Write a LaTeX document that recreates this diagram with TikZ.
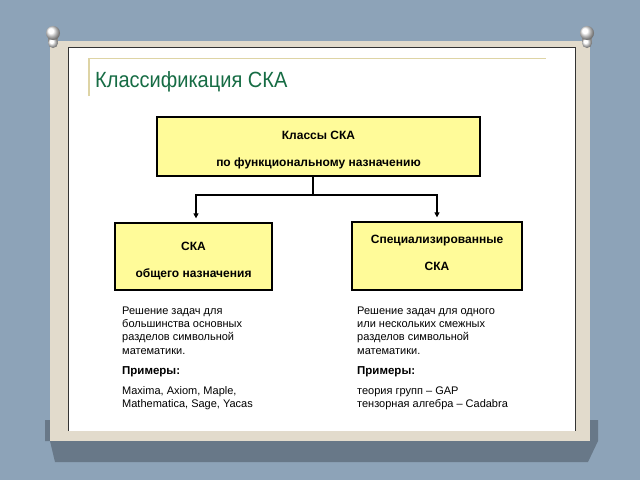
\documentclass[tikz,border=0pt]{standalone}
\usepackage{fontspec}
\setmainfont{Liberation Sans}
\usetikzlibrary{arrows.meta}
\definecolor{bgblue}{RGB}{141,163,184}
\definecolor{beige}{RGB}{226,219,204}
\definecolor{shadowc}{RGB}{104,120,136}
\definecolor{titlegreen}{RGB}{22,108,68}
\definecolor{goldline}{RGB}{222,212,165}
\definecolor{boxyellow}{RGB}{255,251,153}
\tikzset{
  classbox/.style={draw=black, line width=1.3pt, fill=boxyellow, inner sep=0pt},
  boxtext/.style={align=center, inner sep=0pt, font=\bfseries\fontsize{12}{27}\selectfont},
  bodytext/.style={anchor=base west, align=left, inner sep=0pt,
    font=\fontsize{11}{13.4}\selectfont},
  headtext/.style={anchor=base west, inner sep=0pt, font=\bfseries\fontsize{11.5}{13}\selectfont},
  arr/.style={line width=1.6pt, -{Triangle[length=5pt,width=5pt]}},
  conn/.style={line width=1.6pt},
}
\begin{document}
\begin{tikzpicture}[x=1pt,y=-1pt]
\useasboundingbox (0,0) rectangle (640,480);
% background
\fill[bgblue] (0,0) rectangle (640,480);
% frame shadow
\fill[shadowc] (45,420) -- (598,420) -- (598,441) -- (588,462) -- (55,462) -- (50,441) -- (45,441) -- cycle;
% beige frame
\fill[beige] (50,41) rectangle (590,441);
% white board
\fill[white] (68,47) rectangle (576,431);
\draw[black!80, line width=1.5pt] (68.5,431) -- (68.5,47.5) -- (575.5,47.5) -- (575.5,431);
% pins
\fill[black!45] (48,33) rectangle (58,42);
\fill[black!45] (582,33) rectangle (592,42);
\shade[ball color=white] (53,43) circle (5);
\shade[ball color=white] (587,43) circle (5);
\shade[ball color=white] (53,33) circle (7);
\shade[ball color=white] (587,33) circle (7);
% title
\draw[goldline, line width=1.2pt] (89,96) -- (89,58.5) -- (546,58.5);
\node[anchor=base west, inner sep=0pt, text=titlegreen, font=\fontsize{22}{24}\selectfont] (title) at (95,87) {\scalebox{0.91}[1]{Классификация СКА}};
% boxes
\node[classbox, minimum width=323pt, minimum height=59pt] (top) at (318.5,146.5) {};
\node[classbox, minimum width=157pt, minimum height=67pt] (left) at (193.5,256.5) {};
\node[classbox, minimum width=170pt, minimum height=68pt] (right) at (437,256) {};
\node[boxtext, yshift=-4pt] (toptext) at (top.center) {Классы СКА\\по функциональному назначению};
\node[boxtext, yshift=-4.5pt] (lefttext) at (left.center) {СКА\\общего назначения};
\node[boxtext, yshift=3pt] (righttext) at (right.center) {Специализированные\\СКА};
% connectors
\coordinate (split) at (313,195);
\draw[conn] (top.south -| split) -- (split);
\draw[arr] (split) -| ([xshift=2.5pt,yshift=4pt]left.north);
\draw[arr] (split) -| ([yshift=4pt]right.north);
% left column text
\node[bodytext] (ldesc) at (122,354.2) {Решение задач для\\большинства основных\\разделов символьной\\математики.};
\node[headtext] (lhead) at (122,374) {Примеры:};
\node[bodytext] (lex) at (122,407.4) {Maxima, Axiom, Maple,\\Mathematica, Sage, Yacas};
% right column text
\node[bodytext] (rdesc) at (357,354.2) {Решение задач для одного\\или нескольких смежных\\разделов символьной\\математики.};
\node[headtext] (rhead) at (357,374) {Примеры:};
\node[bodytext] (rex) at (357,407.4) {теория групп – GAP\\тензорная алгебра – Cadabra};
\end{tikzpicture}
\end{document}
